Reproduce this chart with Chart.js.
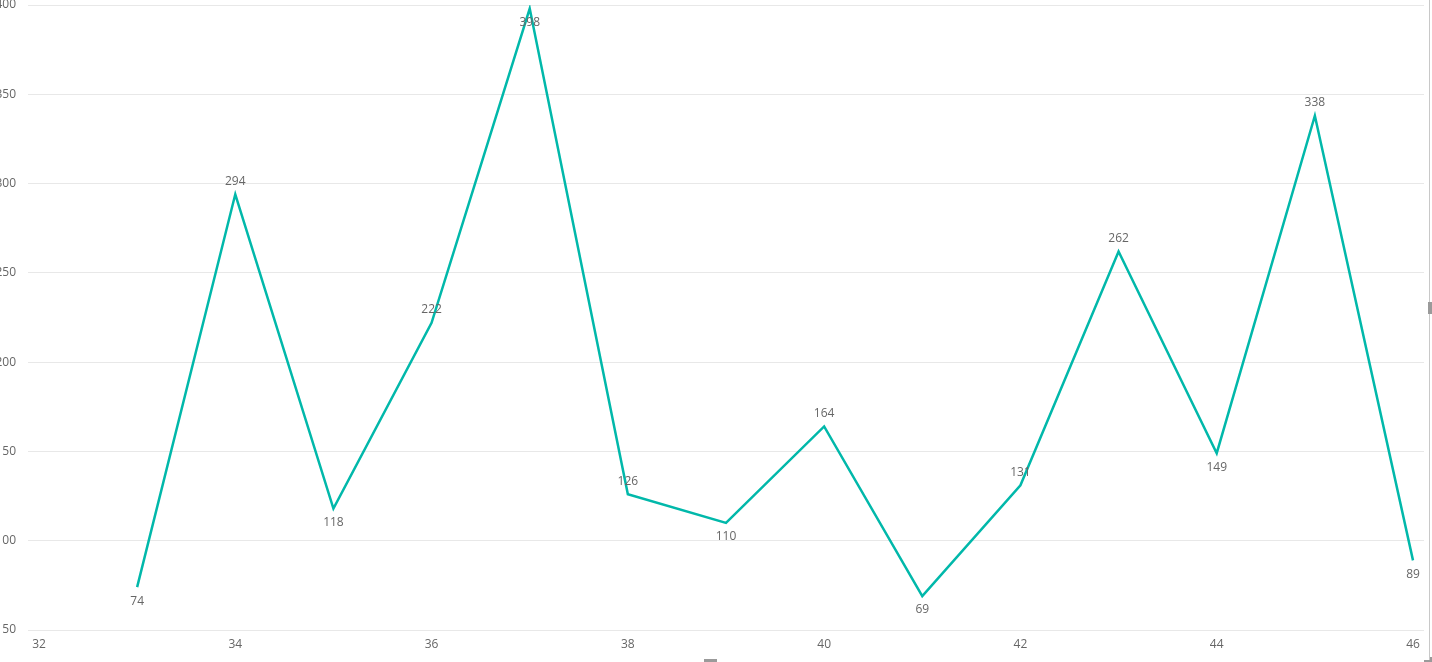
<!DOCTYPE html>
<html>
<head>
<meta charset="utf-8">
<script src="https://cdn.jsdelivr.net/npm/chart.js@4"></script>
<style>
  html, body { margin: 0; padding: 0; background: #fff; overflow: hidden; }
  #wrap { position: absolute; left: -20px; top: 0; width: 1452px; height: 662px; }
  .edge { position: absolute; left: 1429px; top: 0; width: 1px; height: 662px; background: #c8c8c8; }
  .h1 { position: absolute; left: 1428px; top: 302px; width: 4px; height: 12px; background: #9a9a9a; }
  .h2 { position: absolute; left: 704px; top: 659px; width: 13px; height: 3px; background: #9a9a9a; }
  .h3 { position: absolute; left: 1424px; top: 657px; width: 8px; height: 5px; border-left: 2px solid #9a9a9a; border-top: 2px solid #9a9a9a; box-sizing: border-box; transform: rotate(180deg); }
</style>
</head>
<body>
<div id="wrap"><canvas id="c" width="1452" height="662"></canvas></div>
<div class="edge"></div>
<div class="h1"></div>
<div class="h2"></div>
<div class="h3"></div>
<script>
const xValues = [33, 34, 35, 36, 37, 38, 39, 40, 41, 42, 43, 44, 45, 46];
const yValues = [74, 294, 118, 222, 398, 126, 110, 164, 69, 131, 262, 149, 338, 89];
const xTicks = [32, 34, 36, 38, 40, 42, 44, 46];
const yTicks = [50, 100, 150, 200, 250, 300, 350, 400];

const points = xValues.map((x, i) => ({ x: x, y: yValues[i] }));

const labelPlugin = {
  id: 'valueLabels',
  afterDatasetsDraw(chart) {
    const ctx = chart.ctx;
    const meta = chart.getDatasetMeta(0);
    const area = chart.chartArea;
    ctx.save();
    ctx.font = '12px "Open Sans", sans-serif';
    ctx.fillStyle = '#666666';
    ctx.textAlign = 'center';
    ctx.textBaseline = 'middle';
    meta.data.forEach((pt, i) => {
      const v = yValues[i];
      const prev = i > 0 ? yValues[i - 1] : Infinity;
      const next = i < yValues.length - 1 ? yValues[i + 1] : Infinity;
      let below = v < prev && v < next;
      if (pt.y - 14 - 7 < area.top - 4) below = true;
      const y = below ? pt.y + 14 : pt.y - 13;
      ctx.fillText(String(v), pt.x, y);
    });
    ctx.restore();
  }
};

new Chart(document.getElementById('c'), {
  type: 'line',
  data: {
    datasets: [{
      data: points,
      borderColor: '#01B8AA',
      borderWidth: 2.5,
      pointRadius: 0,
      pointHoverRadius: 0,
      fill: false,
      tension: 0
    }]
  },
  options: {
    responsive: false,
    animation: false,
    events: [],
    layout: { padding: { top: 5, right: 8, bottom: 0, left: 0 } },
    plugins: { legend: { display: false }, tooltip: { enabled: false } },
    scales: {
      x: {
        type: 'linear',
        min: 31.888,
        max: 46.112,
        afterBuildTicks(scale) { scale.ticks = xTicks.map(v => ({ value: v })); },
        afterFit(scale) { scale.height = 32; scale.paddingLeft = 0; scale.paddingRight = 0; },
        grid: { display: false, drawTicks: false },
        border: { display: false },
        ticks: {
          padding: 7,
          color: '#666666',
          font: { family: '"Open Sans", sans-serif', size: 12 },
          maxRotation: 0,
          autoSkip: false
        }
      },
      y: {
        min: 50,
        max: 400,
        afterBuildTicks(scale) { scale.ticks = yTicks.map(v => ({ value: v })); },
        afterFit(scale) { scale.width = 48; scale.paddingTop = 0; scale.paddingBottom = 0; },
        grid: { color: '#e8e8e8', lineWidth: 1, drawTicks: false },
        border: { display: false },
        ticks: {
          padding: 12,
          color: '#666666',
          font: { family: '"Open Sans", sans-serif', size: 12 }
        }
      }
    }
  },
  plugins: [labelPlugin]
});
</script>
</body>
</html>
